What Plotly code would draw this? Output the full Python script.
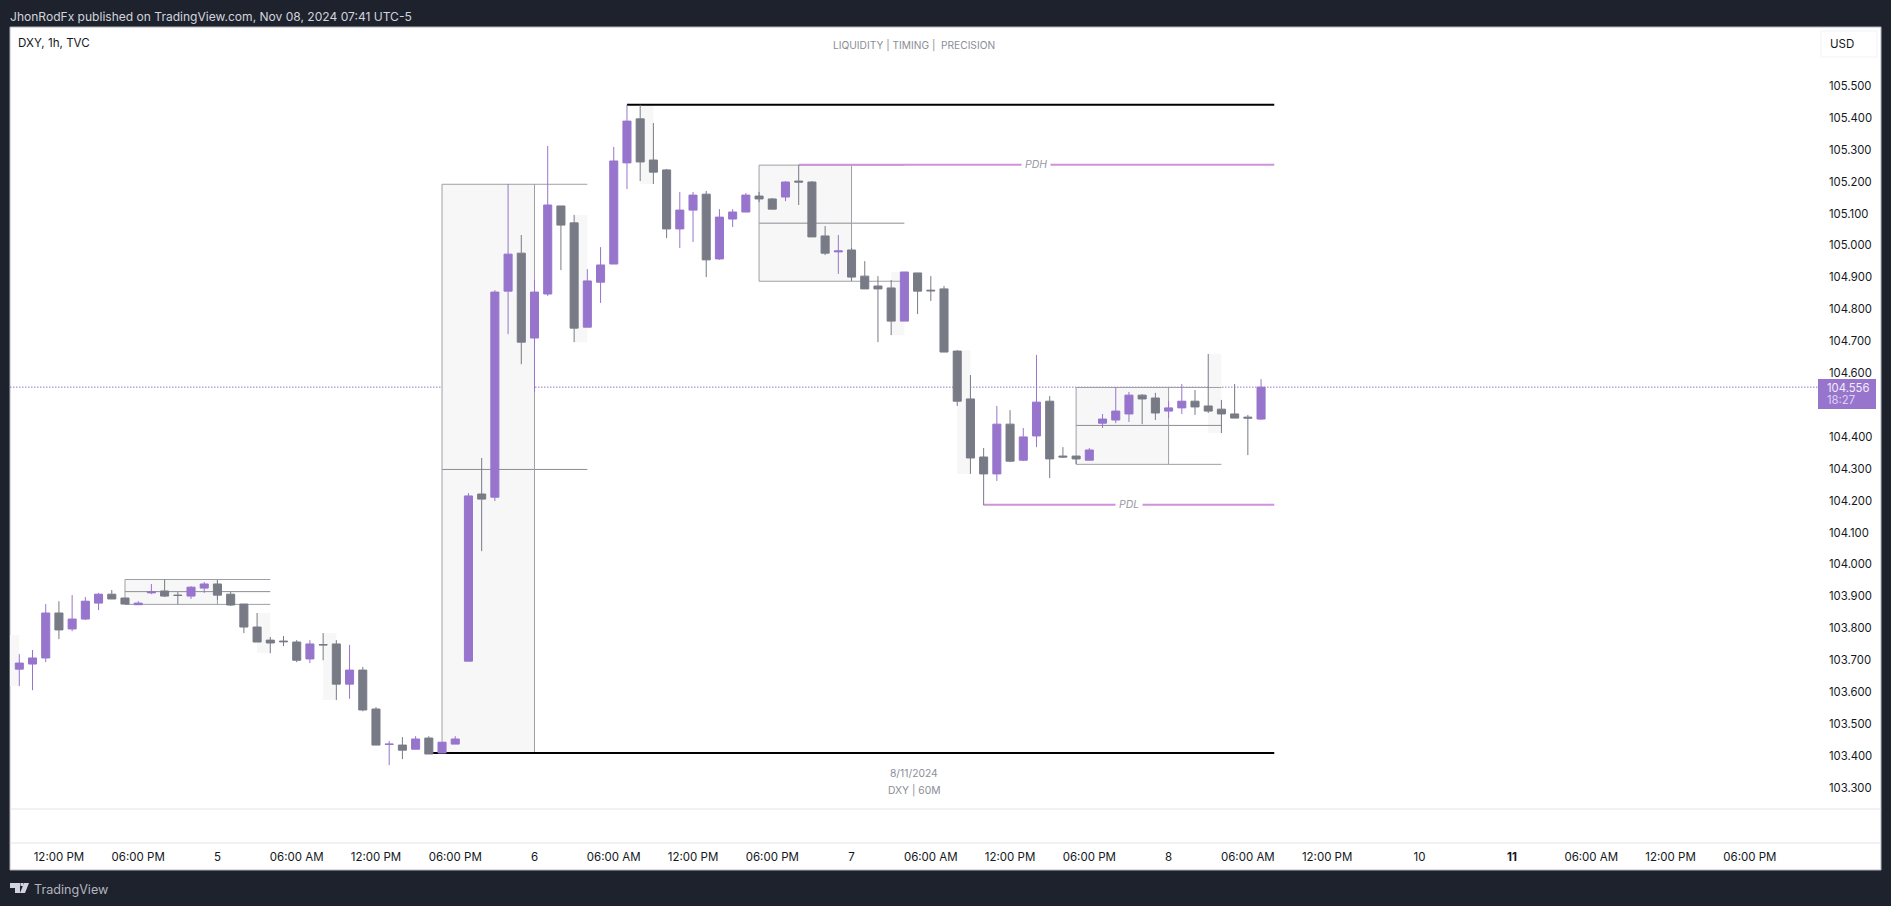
import plotly.graph_objects as go

W, H = 1891, 906

# hourly bars, index 0 = Nov 4 09:00
opens = [103.672, 103.688, 103.707, 103.848, 103.798, 103.829, 103.879, 103.907, 103.895, 103.874,
         103.911, 103.917, 103.904, 103.901, 103.926, 103.939, 103.907, 103.876, 103.804, 103.763,
         103.760, 103.757, 103.704, 103.749, 103.751, 103.625, 103.669, 103.547, 103.436, 103.434,
         103.421, 103.456, 103.409, 103.437, 103.697, 104.221, 104.211, 104.857, 104.976, 104.710,
         104.848, 105.124, 105.071, 104.744, 104.885, 104.942, 105.259, 105.397, 105.268, 105.237,
         105.052, 105.111, 105.161, 104.958, 105.083, 105.105, 105.155, 105.146, 105.152, 105.202,
         105.199, 105.030, 104.980, 104.986, 104.904, 104.873, 104.867, 104.763, 104.914, 104.860,
         104.864, 104.669, 104.519, 104.337, 104.284, 104.440, 104.327, 104.403, 104.512, 104.340,
         104.340, 104.327, 104.443, 104.453, 104.472, 104.531, 104.522, 104.481, 104.491, 104.512,
         104.497, 104.487, 104.472, 104.462, 104.456]
closes = [103.691, 103.707, 103.848, 103.795, 103.829, 103.885, 103.907, 103.892, 103.876, 103.879,
          103.914, 103.901, 103.903, 103.929, 103.939, 103.904, 103.873, 103.804, 103.757, 103.754,
          103.758, 103.700, 103.751, 103.748, 103.625, 103.669, 103.544, 103.434, 103.437, 103.418,
          103.453, 103.406, 103.443, 103.453, 104.215, 104.205, 104.854, 104.973, 104.697, 104.854,
          105.127, 105.064, 104.741, 104.889, 104.939, 105.265, 105.390, 105.262, 105.230, 105.052,
          105.111, 105.158, 104.955, 105.089, 105.105, 105.158, 105.146, 105.114, 105.199, 105.199,
          105.027, 104.976, 104.983, 104.901, 104.864, 104.864, 104.763, 104.917, 104.857, 104.858,
          104.666, 104.512, 104.334, 104.284, 104.440, 104.324, 104.400, 104.509, 104.331, 104.337,
          104.331, 104.359, 104.456, 104.481, 104.531, 104.519, 104.475, 104.491, 104.512, 104.494,
          104.481, 104.472, 104.459, 104.459, 104.556]
highs = [103.719, 103.732, 103.876, 103.885, 103.904, 103.898, 103.911, 103.920, 103.895, 103.885,
         103.939, 103.954, 103.914, 103.932, 103.945, 103.951, 103.914, 103.876, 103.848, 103.773,
         103.776, 103.763, 103.763, 103.785, 103.763, 103.748, 103.679, 103.553, 103.447, 103.459,
         103.462, 103.462, 103.443, 103.462, 104.224, 104.334, 104.860, 105.193, 105.033, 104.892,
         105.312, 105.124, 105.096, 104.926, 104.995, 105.309, 105.441, 105.441, 105.384, 105.240,
         105.168, 105.168, 105.171, 105.114, 105.114, 105.165, 105.168, 105.149, 105.202, 105.252,
         105.202, 105.061, 105.033, 104.992, 104.951, 104.904, 104.892, 104.917, 104.914, 104.904,
         104.873, 104.672, 104.594, 104.365, 104.497, 104.484, 104.428, 104.657, 104.528, 104.368,
         104.340, 104.365, 104.472, 104.556, 104.541, 104.534, 104.538, 104.512, 104.566, 104.547,
         104.660, 104.516, 104.566, 104.469, 104.581]
lows = [103.619, 103.606, 103.694, 103.766, 103.791, 103.826, 103.857, 103.892, 103.876, 103.874,
        103.907, 103.898, 103.876, 103.892, 103.911, 103.889, 103.870, 103.785, 103.757, 103.722,
        103.744, 103.694, 103.691, 103.700, 103.575, 103.579, 103.540, 103.434, 103.371, 103.390,
        103.421, 103.406, 103.409, 103.437, 103.697, 104.042, 104.199, 104.722, 104.628, 104.541,
        104.842, 104.923, 104.697, 104.744, 104.820, 104.942, 105.177, 105.202, 105.193, 105.023,
        104.992, 105.011, 104.901, 104.955, 105.058, 105.105, 105.136, 105.114, 105.139, 105.127,
        105.027, 104.970, 104.911, 104.889, 104.864, 104.697, 104.719, 104.763, 104.785, 104.826,
        104.666, 104.497, 104.284, 104.186, 104.262, 104.321, 104.324, 104.368, 104.271, 104.334,
        104.315, 104.327, 104.428, 104.443, 104.447, 104.440, 104.453, 104.459, 104.472, 104.469,
        104.475, 104.412, 104.459, 104.343, 104.453]
bars = list(range(len(opens)))

time_ticks = [3, 9, 15, 21, 27, 33, 39, 45, 51, 57, 63, 69, 75, 81, 87, 93, 99, 106, 113, 119, 125, 131]
time_labels = ["12:00 PM", "06:00 PM", "5", "06:00 AM", "12:00 PM", "06:00 PM", "6", "06:00 AM",
               "12:00 PM", "06:00 PM", "7", "06:00 AM", "12:00 PM", "06:00 PM", "8", "06:00 AM",
               "12:00 PM", "10", "<b>11</b>", "06:00 AM", "12:00 PM", "06:00 PM"]
price_ticks = [103.3, 103.4, 103.5, 103.6, 103.7, 103.8, 103.9, 104.0, 104.1, 104.2, 104.3, 104.4,
               104.6, 104.7, 104.8, 104.9, 105.0, 105.1, 105.2, 105.3, 105.4, 105.5]

# drawings on the chart: (first bar, last bar, price, price)
light_zones = [(-1, 0, 103.779, 103.619), (18, 19, 103.848, 103.722), (23, 24, 103.785, 103.575),
               (42, 43, 105.096, 104.697), (47, 48, 105.441, 105.193), (66, 67, 104.917, 104.719),
               (71, 72, 104.672, 104.284), (90, 91, 104.660, 104.412)]
# (left, box right, lines end, top, middle, bottom)
range_boxes = [(8, 15, 19, 103.953, 103.915, 103.875),
               (32, 39, 43, 105.192, 104.298, 103.409),
               (56, 63, 67, 105.252, 105.070, 104.888),
               (80, 87, 91, 104.555, 104.436, 104.314)]
week_high, week_high_start = 105.441, 46
week_low, week_low_start = 103.409, 31
pdh, pdh_start, pdh_label_bar = 105.253, 59, 77
pdl, pdl_start, pdl_label_bar = 104.187, 73, 84
levels_end = 95
last_price = 104.556

UP = "#9775cd"
DOWN = "#787b86"
DARK = "#1e222d"
FRAME = "#9f9fa8"
MID = "#8c8c94"
ZONE = "#f7f7f7"
FONT = "Inter"


def px(x):
    return x / W


def py(y):
    return 1 - y / H


def rect_px(x0, y0, x1, y1, **kw):
    return dict(type="rect", xref="paper", yref="paper", x0=px(x0), x1=px(x1), y0=py(y0), y1=py(y1), **kw)


def label(x, y, text, size=12, color="#131722", anchor="left", **kw):
    return dict(xref="paper", yref="paper", x=px(x), y=py(y), text=text, showarrow=False,
                xanchor=anchor, yanchor="middle", font=dict(family=FONT, size=size, color=color), **kw)


def hline(x0, x1, y, color, width):
    return dict(type="line", xref="x", yref="y", x0=x0, x1=x1, y0=y, y1=y, layer="below",
                line=dict(color=color, width=width))


def vline(x, y0, y1, color, width):
    return dict(type="line", xref="x", yref="y", x0=x, x1=x, y0=y0, y1=y1, layer="below",
                line=dict(color=color, width=width))


def poly(points):
    return "M " + " L ".join(f"{px(a)},{py(b)}" for a, b in points) + " Z"


shapes = [
    rect_px(10, 27, 1881, 870, fillcolor="white", line=dict(color="#b2b5be", width=1), layer="below"),
    dict(type="line", xref="paper", yref="paper", x0=px(10), x1=px(1881), y0=py(809), y1=py(809),
         layer="below", line=dict(color="#e0e3eb", width=1)),
    dict(type="line", xref="paper", yref="paper", x0=px(10), x1=px(1881), y0=py(843), y1=py(843),
         layer="below", line=dict(color="#e0e3eb", width=1)),
]
for x0, x1, top, bottom in light_zones:
    shapes.append(dict(type="rect", xref="x", yref="y", x0=x0, x1=x1, y0=bottom, y1=top, layer="below",
                       fillcolor=ZONE, line=dict(width=0)))
for left, right, end, top, mid, bottom in range_boxes:
    shapes.append(dict(type="rect", xref="x", yref="y", x0=left, x1=right, y0=bottom, y1=top, layer="below",
                       fillcolor=ZONE, line=dict(width=0)))
    shapes.append(hline(left, end, top, FRAME, 1))
    shapes.append(hline(left, end, mid, MID, 1))
    shapes.append(hline(left, end, bottom, FRAME, 1))
    shapes.append(vline(left, bottom, top, FRAME, 1))
    shapes.append(vline(right, bottom, top, FRAME, 1))
shapes += [
    hline(week_high_start, levels_end, week_high, "black", 2),
    hline(week_low_start, levels_end, week_low, "black", 2),
    hline(pdh_start, levels_end, pdh, "#ce93d8", 2),
    hline(pdl_start, levels_end, pdl, "#ce93d8", 2),
    dict(type="line", xref="paper", yref="y", x0=px(10), x1=px(1818), y0=last_price, y1=last_price,
         layer="below", line=dict(color=UP, width=1, dash="1.5px,1.5px")),
    rect_px(1818, 379, 1876, 409, fillcolor=UP, line=dict(width=0)),
    rect_px(1821, 31, 1877, 57, fillcolor="white", line=dict(color="#f0f3fa", width=1)),
    # TradingView logo
    dict(type="path", xref="paper", yref="paper", fillcolor="#d1d4dc", line=dict(width=0),
         path=poly([(10, 883), (20, 883), (20, 893), (15, 893), (15, 888), (10, 888)])),
    dict(type="path", xref="paper", yref="paper", fillcolor="#d1d4dc", line=dict(width=0),
         path=poly([(24, 883), (29, 883), (25, 893), (20, 893)])),
    rect_px(20.5, 883, 23.5, 886, fillcolor="#d1d4dc", line=dict(width=0)),
]

annotations = [
    label(8, 17, "JhonRodFx published on TradingView.com, Nov 08, 2024 07:41 UTC-5", size=12.05, color="#d1d4dc"),
    label(16, 43, "DXY, 1h, TVC", size=11.6),
    label(914, 45, "LIQUIDITY | TIMING |  PRECISION", size=10.2, color="#8b8e98", anchor="center"),
    label(914, 773, "8/11/2024", size=10.3, color="#8b8e98", anchor="center"),
    label(914, 790, "DXY | 60M", size=10.3, color="#8b8e98", anchor="center"),
    label(1828, 44, "USD", size=11.5),
    label(1825, 388, "104.556", size=11.3, color="#f2edf9"),
    label(1825, 400, "18:27", size=11.3, color="#ddd2f0"),
    label(32, 889, "TradingView", size=12.6, color="#b2b5be"),
    dict(xref="x", yref="y", x=pdh_label_bar, y=pdh, text="<i>PDH</i>", showarrow=False, bgcolor="white",
         font=dict(family=FONT, size=10.5, color="#9a9aa2"), borderpad=3),
    dict(xref="x", yref="y", x=pdl_label_bar, y=pdl, text="<i>PDL</i>", showarrow=False, bgcolor="white",
         font=dict(family=FONT, size=10.5, color="#9a9aa2"), borderpad=3),
]

fig = go.Figure(go.Candlestick(
    x=bars, open=opens, high=highs, low=lows, close=closes,
    increasing=dict(line=dict(color=UP, width=1), fillcolor=UP),
    decreasing=dict(line=dict(color=DOWN, width=1), fillcolor=DOWN),
    whiskerwidth=0, showlegend=False, hoverinfo="skip",
))

fig.update_layout(
    width=W, height=H,
    margin=dict(l=0, r=0, t=0, b=0),
    paper_bgcolor=DARK,
    plot_bgcolor="rgba(0,0,0,0)",
    showlegend=False,
    boxgap=0.39,
    boxgroupgap=0,
    font=dict(family=FONT, size=12, color="#131722"),
    shapes=shapes,
    annotations=annotations,
    xaxis=dict(
        type="linear", domain=[px(10), px(1818)], range=[-0.704, 136.16],
        rangeslider=dict(visible=False), showgrid=False, zeroline=False, showline=False,
        tickmode="array", tickvals=time_ticks, ticktext=time_labels,
        ticks="", ticklabelstandoff=5, tickfont=dict(family=FONT, size=11.5, color="#131722"),
    ),
    yaxis=dict(
        domain=[py(843), py(27)], range=[103.127, 105.685], side="right",
        showgrid=False, zeroline=False, showline=False,
        tickmode="array", tickvals=price_ticks, tickformat=".3f",
        ticks="", ticklabelstandoff=10, tickfont=dict(family=FONT, size=11.3, color="#131722"),
    ),
)

fig.write_html("out.html", config={"displayModeBar": False},
               post_script="document.body.style.margin='0';document.body.style.overflow='hidden';")
